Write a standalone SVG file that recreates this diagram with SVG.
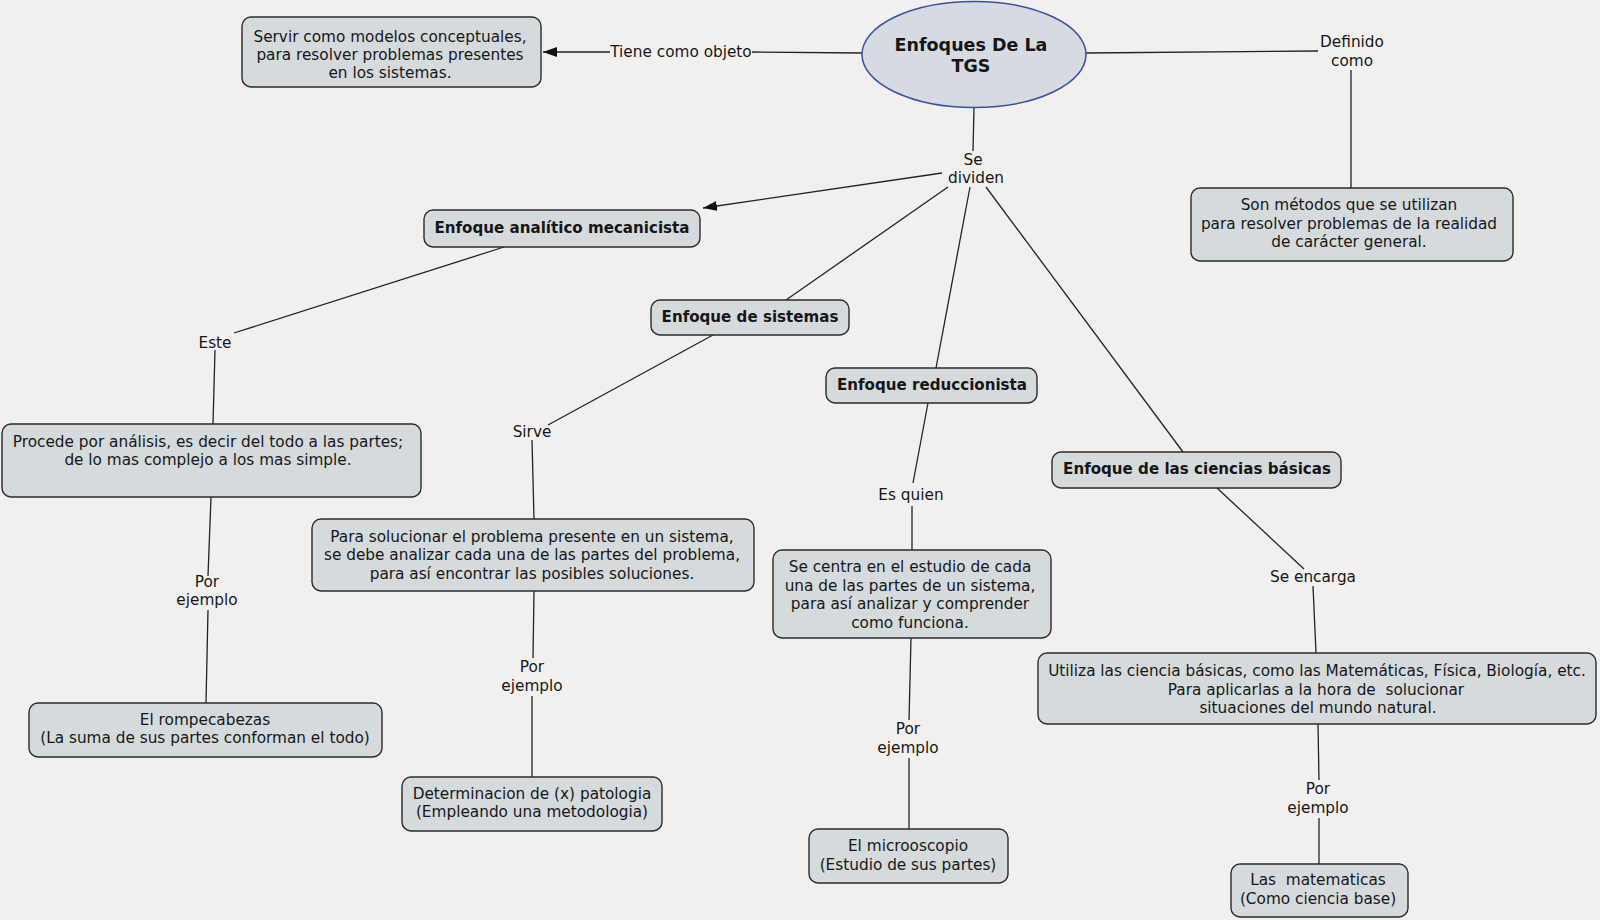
<svg xmlns="http://www.w3.org/2000/svg" width="1600" height="920" viewBox="0 0 1600 920">
<style>
.bg{fill:#f1f0ef}
.box{fill:#d5dadd;stroke:#2a2a2a;stroke-width:1.4}
.ell{fill:#d5dbe0;stroke:#3b4fa3;stroke-width:1.5}
.t{font-family:"DejaVu Sans","Verdana",sans-serif;font-size:15.3px;fill:#161616;text-anchor:middle}
.b{font-weight:bold;font-size:15.1px}
.big{font-size:17.5px}
.pre{white-space:pre}
.c line{stroke:#222;stroke-width:1.3;fill:none}
</style>
<defs>
<marker id="ah" viewBox="0 0 14 10" refX="14" refY="5" markerWidth="14" markerHeight="10" markerUnits="userSpaceOnUse" orient="auto">
<path d="M0,0 L14,5 L0,10 Z" fill="#111"/>
</marker>
</defs>
<rect class="bg" x="0" y="0" width="1600" height="920"/>

<g id="connectors" class="c">
<line x1="862" y1="53" x2="752" y2="52"/>
<line x1="610" y1="52" x2="543" y2="52" marker-end="url(#ah)"/>
<line x1="1086" y1="53" x2="1318" y2="51"/>
<line x1="1351" y1="70" x2="1351" y2="188"/>
<line x1="974" y1="108" x2="973" y2="151"/>
<line x1="942" y1="173" x2="703" y2="208" marker-end="url(#ah)"/>
<line x1="948" y1="187" x2="786" y2="300"/>
<line x1="970" y1="187" x2="936" y2="368"/>
<line x1="986" y1="187" x2="1183" y2="452"/>
<line x1="504" y1="247" x2="234" y2="333"/>
<line x1="215" y1="350" x2="213" y2="424"/>
<line x1="211" y1="497" x2="208" y2="576"/>
<line x1="208" y1="610" x2="206" y2="703"/>
<line x1="713" y1="335" x2="548" y2="425"/>
<line x1="532" y1="440" x2="534" y2="519"/>
<line x1="534" y1="591" x2="533" y2="658"/>
<line x1="532" y1="696" x2="532" y2="777"/>
<line x1="928" y1="403" x2="913" y2="483"/>
<line x1="912" y1="506" x2="912" y2="550"/>
<line x1="911" y1="638" x2="909" y2="720"/>
<line x1="909" y1="758" x2="909" y2="829"/>
<line x1="1217" y1="488" x2="1304" y2="569"/>
<line x1="1313" y1="586" x2="1316" y2="653"/>
<line x1="1318" y1="724" x2="1319" y2="780"/>
<line x1="1319" y1="818" x2="1319" y2="864"/>
</g>

<g id="labels">
<text class="t" x="681" y="57">Tiene como objeto</text>
<text class="t" x="1352" y="47">Definido</text>
<text class="t" x="1352" y="66">como</text>
<text class="t" x="973" y="165">Se</text>
<text class="t" x="976" y="183">dividen</text>
<text class="t" x="215" y="348">Este</text>
<text class="t" x="207" y="587">Por</text>
<text class="t" x="207" y="605">ejemplo</text>
<text class="t" x="532" y="437">Sirve</text>
<text class="t" x="532" y="672">Por</text>
<text class="t" x="532" y="691">ejemplo</text>
<text class="t" x="911" y="500">Es quien</text>
<text class="t" x="908" y="734">Por</text>
<text class="t" x="908" y="753">ejemplo</text>
<text class="t" x="1313" y="582">Se encarga</text>
<text class="t" x="1318" y="794">Por</text>
<text class="t" x="1318" y="813">ejemplo</text>
</g>

<g id="n-tgs">
<ellipse class="ell" cx="974" cy="54.5" rx="112" ry="53"/>
<text class="t b big" x="971" y="51">Enfoques De La</text>
<text class="t b big" x="971" y="72">TGS</text>
</g>

<g id="n-servir">
<rect class="box" x="242" y="17" width="299" height="70" rx="9"/>
<text class="t" x="390" y="42">Servir como modelos conceptuales,</text>
<text class="t" x="390" y="60">para resolver problemas presentes</text>
<text class="t" x="390" y="78">en los sistemas.</text>
</g>

<g id="n-metodos">
<rect class="box" x="1191" y="188" width="322" height="73" rx="9"/>
<text class="t" x="1349" y="210">Son métodos que se utilizan</text>
<text class="t" x="1349" y="229">para resolver problemas de la realidad</text>
<text class="t" x="1349" y="247">de carácter general.</text>
</g>

<g id="n-analitico">
<rect class="box" x="424" y="210" width="276" height="37" rx="9"/>
<text class="t b" x="562" y="233">Enfoque analítico mecanicista</text>
</g>

<g id="n-procede">
<rect class="box" x="2" y="424" width="419" height="73" rx="9"/>
<text class="t" x="208" y="447">Procede por análisis, es decir del todo a las partes;</text>
<text class="t" x="208" y="465">de lo mas complejo a los mas simple.</text>
</g>

<g id="n-rompecabezas">
<rect class="box" x="29" y="703" width="353" height="54" rx="9"/>
<text class="t" x="205" y="725">El rompecabezas</text>
<text class="t" x="205" y="743">(La suma de sus partes conforman el todo)</text>
</g>

<g id="n-sistemas">
<rect class="box" x="651" y="300" width="198" height="35" rx="9"/>
<text class="t b" x="750" y="322">Enfoque de sistemas</text>
</g>

<g id="n-solucionar">
<rect class="box" x="312" y="519" width="442" height="72" rx="9"/>
<text class="t" x="532" y="542">Para solucionar el problema presente en un sistema,</text>
<text class="t" x="532" y="560">se debe analizar cada una de las partes del problema,</text>
<text class="t" x="532" y="579">para así encontrar las posibles soluciones.</text>
</g>

<g id="n-determinacion">
<rect class="box" x="402" y="777" width="260" height="54" rx="9"/>
<text class="t" x="532" y="799">Determinacion de (x) patologia</text>
<text class="t" x="532" y="817">(Empleando una metodologia)</text>
</g>

<g id="n-reduccionista">
<rect class="box" x="826" y="368" width="211" height="35" rx="9"/>
<text class="t b" x="932" y="390">Enfoque reduccionista</text>
</g>

<g id="n-centra">
<rect class="box" x="773" y="550" width="278" height="88" rx="9"/>
<text class="t" x="910" y="572">Se centra en el estudio de cada</text>
<text class="t" x="910" y="591">una de las partes de un sistema,</text>
<text class="t" x="910" y="609">para así analizar y comprender</text>
<text class="t" x="910" y="628">como funciona.</text>
</g>

<g id="n-microoscopio">
<rect class="box" x="809" y="829" width="199" height="54" rx="9"/>
<text class="t" x="908" y="851">El microoscopio</text>
<text class="t" x="908" y="870">(Estudio de sus partes)</text>
</g>

<g id="n-ciencias">
<rect class="box" x="1052" y="452" width="289" height="36" rx="9"/>
<text class="t b" x="1197" y="474">Enfoque de las ciencias básicas</text>
</g>

<g id="n-utiliza">
<rect class="box" x="1038" y="653" width="558" height="71" rx="9"/>
<text class="t" x="1317" y="676">Utiliza las ciencia básicas, como las Matemáticas, Física, Biología, etc.</text>
<text class="t pre" x="1316" y="695">Para aplicarlas a la hora de  solucionar</text>
<text class="t" x="1318" y="713">situaciones del mundo natural.</text>
</g>

<g id="n-matematicas">
<rect class="box" x="1231" y="864" width="177" height="53" rx="9"/>
<text class="t pre" x="1318" y="885">Las  matematicas</text>
<text class="t" x="1318" y="904">(Como ciencia base)</text>
</g>
</svg>
